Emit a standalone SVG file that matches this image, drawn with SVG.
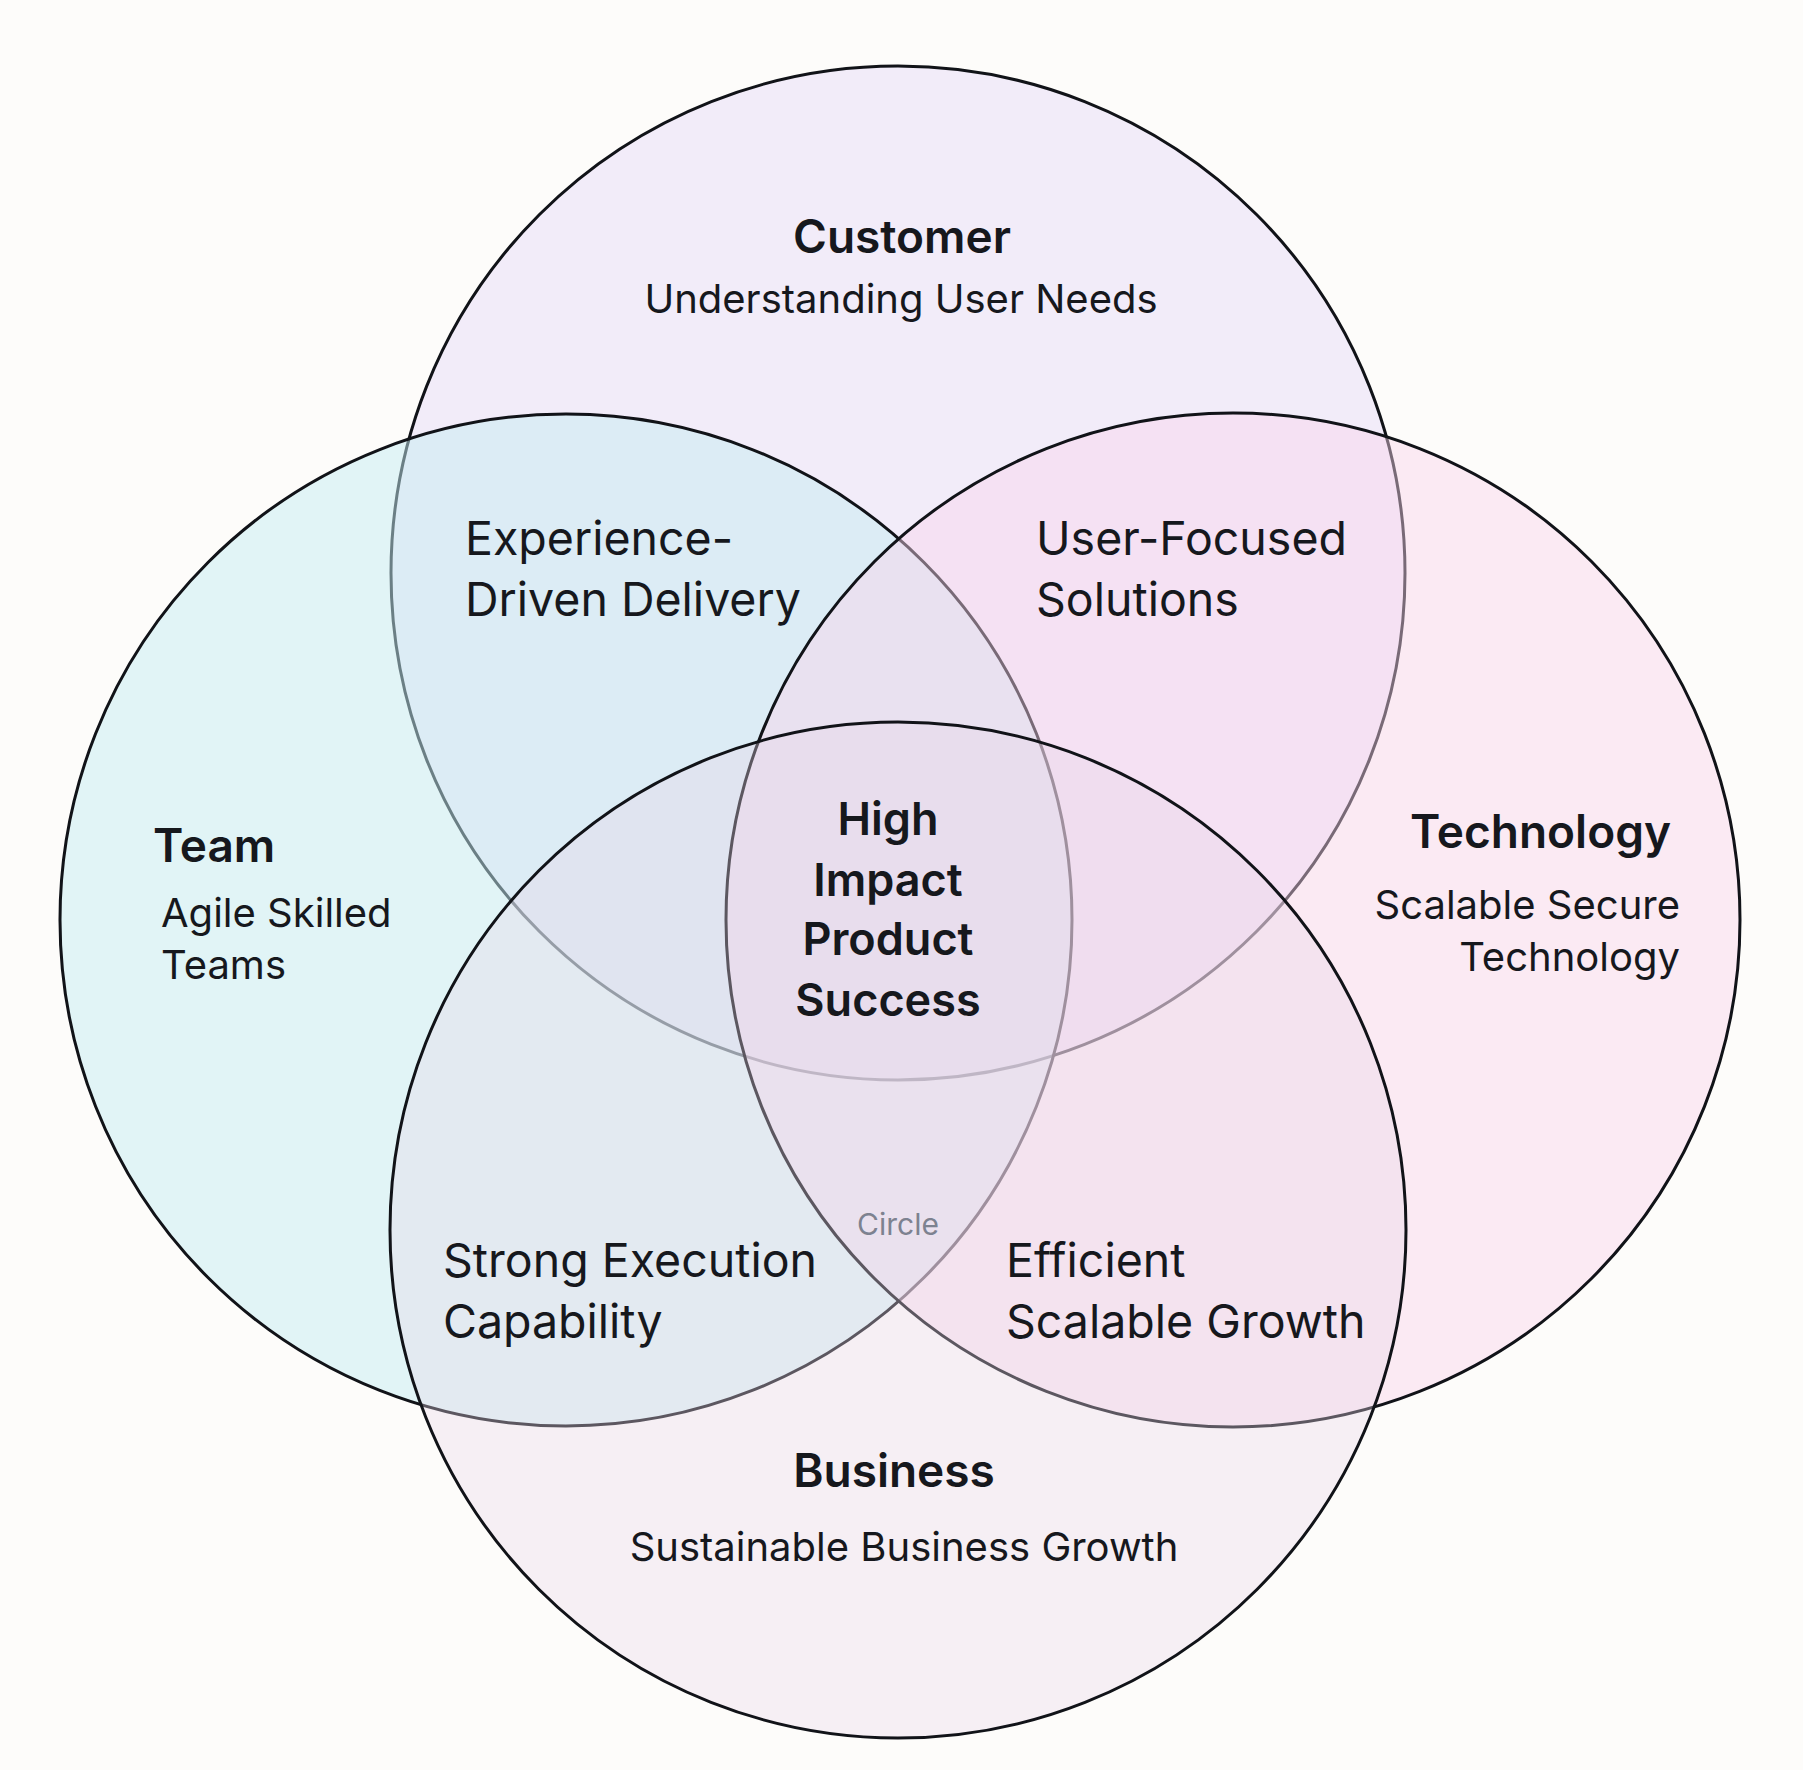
<svg xmlns="http://www.w3.org/2000/svg" width="1803" height="1770" viewBox="0 0 1803 1770">
<style>
.c{stroke:#111318;stroke-width:3}
text{font-family:Inter,"Noto Sans","Liberation Sans",sans-serif;fill:#16181d}
.h{font-weight:600;font-size:46px}
.s{font-size:40px}
.m{font-size:46.5px}
.k{font-weight:600;font-size:45px}
</style>
<rect width="1803" height="1770" fill="#fdfcfa"/>
<g id="customer"><circle class="c" cx="898" cy="573" r="507" fill="#e8dcf8" fill-opacity="0.5"/></g>
<g id="team"><circle class="c" cx="566" cy="920" r="506" fill="#c6ecf1" fill-opacity="0.5"/></g>
<g id="technology"><circle class="c" cx="1233" cy="920" r="507" fill="#f8d4ec" fill-opacity="0.45"/></g>
<g id="business"><circle class="c" cx="898" cy="1230" r="508" fill="#e9d8e8" fill-opacity="0.35"/></g>
<g id="labels">
<text class="h" x="902" y="253" text-anchor="middle">Customer</text>
<text class="s" x="901" y="313" text-anchor="middle">Understanding User Needs</text>
<text class="m" x="465" y="555">Experience-</text>
<text class="m" x="465" y="616">Driven Delivery</text>
<text class="m" x="1036" y="555">User-Focused</text>
<text class="m" x="1036" y="616">Solutions</text>
<text class="h" x="153" y="862">Team</text>
<text class="s" x="161" y="927">Agile Skilled</text>
<text class="s" x="161" y="979">Teams</text>
<text class="h" x="1671" y="848" text-anchor="end">Technology</text>
<text class="s" x="1680" y="919" text-anchor="end">Scalable Secure</text>
<text class="s" x="1680" y="971" text-anchor="end">Technology</text>
<text class="k" x="888" y="835" text-anchor="middle">High</text>
<text class="k" x="888" y="896" text-anchor="middle">Impact</text>
<text class="k" x="888" y="955" text-anchor="middle">Product</text>
<text class="k" x="888" y="1016" text-anchor="middle">Success</text>
<text x="898" y="1235" text-anchor="middle" font-size="30" style="fill:#7d8290">Circle</text>
<text class="m" x="443" y="1277">Strong Execution</text>
<text class="m" x="443" y="1338">Capability</text>
<text class="m" x="1006" y="1277">Efficient</text>
<text class="m" x="1006" y="1338">Scalable Growth</text>
<text class="h" x="894" y="1487" text-anchor="middle">Business</text>
<text class="s" x="904" y="1561" text-anchor="middle">Sustainable Business Growth</text>
</g>
</svg>
